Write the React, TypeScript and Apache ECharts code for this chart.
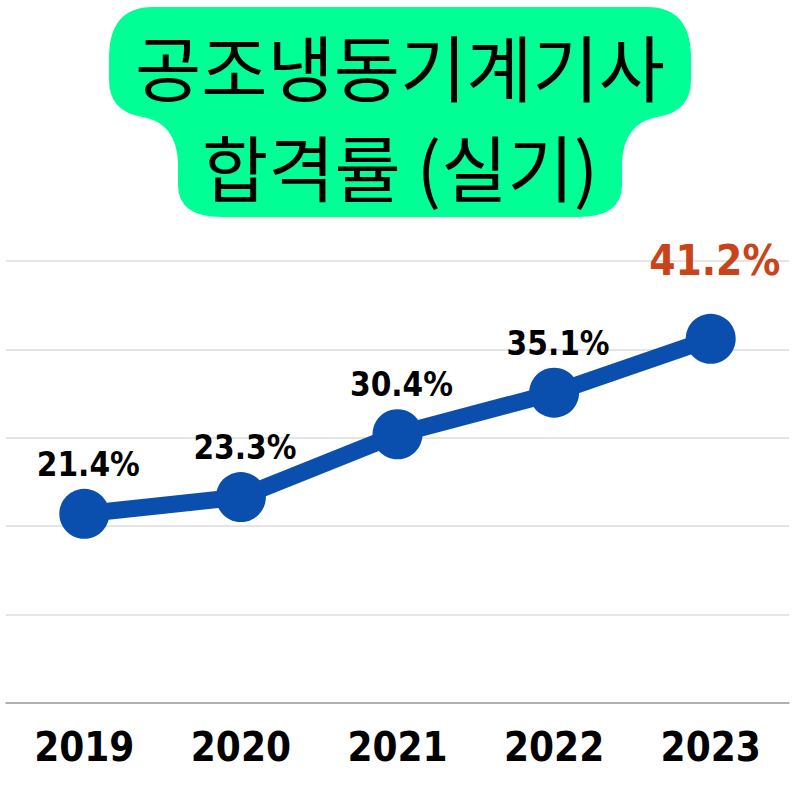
import React, { useEffect, useRef } from "react";
import * as echarts from "echarts";

// 연도별 합격률 (실기)
const years = ["2019", "2020", "2021", "2022", "2023"];
const passRates = [21.4, 23.3, 30.4, 35.1, 41.2];
const titleLines = ["공조냉동기계기사", "합격률 (실기)"];

const numFont = '"DejaVu Sans Condensed", "DejaVu Sans", sans-serif';

// 제목 배경 모양
const badgePath =
  "M153 7 L647 7 Q691 7 691 58 L691 80 Q691 112 657 117 Q624 123 622 162 L622 185 Q622 217 578 217 L222 217 Q178 217 178 185 L178 162 Q176 123 143 117 Q109 112 109 80 L109 58 Q109 7 153 7 Z";
echarts.graphic.registerShape("badge", echarts.graphic.extendPath(badgePath, {}) as any);

const App: React.FC = () => {
  const chartRef = useRef<HTMLDivElement>(null);

  useEffect(() => {
    const chart = echarts.init(chartRef.current, null, { renderer: "svg" });
    const last = passRates.length - 1;
    const option: echarts.EChartsOption = {
      animation: false,
      backgroundColor: "#ffffff",
      graphic: [
        {
          type: "badge" as any,
          x: 0,
          y: 0,
          z: 0,
          style: { fill: "#00ff94" },
        } as any,
        ...titleLines.map((t, i) => ({
          type: "text" as const,
          x: 400,
          y: i === 0 ? 64 : 164,
          z: 1,
          style: {
            text: t,
            fill: "#000000",
            font: '400 72px "Noto Sans CJK KR"',
            textAlign: "center" as const,
            textVerticalAlign: "middle" as const,
          },
        })),
      ],
      grid: { left: 6, right: 11, top: 261, bottom: 97, containLabel: false },
      xAxis: {
        type: "category",
        data: years,
        boundaryGap: true,
        axisLine: { lineStyle: { color: "#9e9e9e", width: 1.5 } },
        axisTick: { show: false },
        axisLabel: {
          interval: 0,
          color: "#000000",
          fontFamily: numFont,
          fontWeight: "bold",
          fontSize: 40,
          margin: 24,
        },
      },
      yAxis: {
        type: "value",
        min: 0,
        max: 50,
        interval: 10,
        axisLabel: { show: false },
        axisLine: { show: false },
        axisTick: { show: false },
        splitLine: { lineStyle: { color: "#dddddd", width: 1.5 } },
      },
      series: [
        {
          type: "line",
          data: passRates.map((v, i) => ({
            value: v,
            label: {
              show: true,
              position: "top",
              distance: i === last ? 32 : 8,
              offset: [4, 0],
              formatter: "{c}%",
              color: i === last ? "#c9441a" : "#000000",
              fontFamily: numFont,
              fontWeight: "bold",
              fontSize: i === last ? 42 : 33,
            },
          })),
          symbol: "circle",
          symbolSize: 50,
          lineStyle: { color: "#0a4fae", width: 17 },
          itemStyle: { color: "#0a4fae" },
        },
      ],
    };
    chart.setOption(option);
    return () => {
      chart.dispose();
    };
  }, []);

  return (
    <div
      ref={chartRef}
      style={{ position: "absolute", left: 0, top: 0, width: 800, height: 800 }}
    />
  );
};

export default App;
